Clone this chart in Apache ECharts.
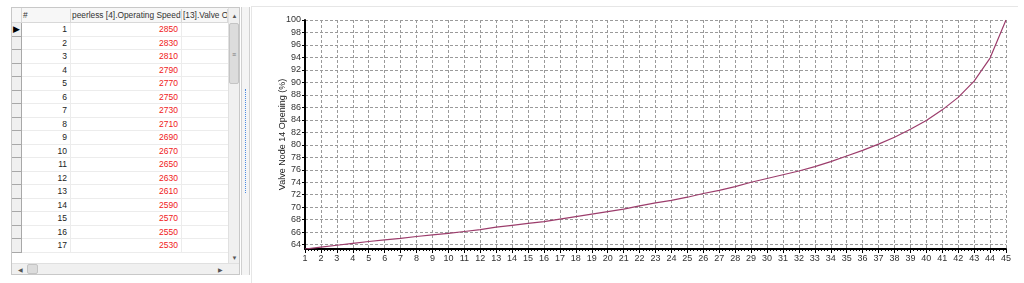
<!DOCTYPE html>
<html>
<head>
<meta charset="utf-8">
<script src="https://cdn.jsdelivr.net/npm/echarts@6/dist/echarts.min.js"></script>
<style>
  html, body { margin:0; padding:0; background:#fff; width:1024px; height:283px; overflow:hidden; }
  #panel { position:absolute; left:11px; top:7px; width:229px; height:268px; border:1px solid #c8c8c8; box-sizing:border-box; background:#fff; font-family:"Liberation Sans", Arial, sans-serif; font-size:8.5px; color:#222; overflow:hidden; }
  .cell { position:absolute; box-sizing:border-box; white-space:nowrap; overflow:hidden; line-height:13px; }
  #chart { position:absolute; left:251px; top:0; width:773px; height:283px; }
  #chartbox { position:absolute; left:251px; top:6px; width:767px; height:277px; border-top:1px solid #e6e6e6; border-left:1px solid #e6e6e6; box-sizing:border-box; }
</style>
</head>
<body>
<div id="panel"></div>
<div id="split" style="position:absolute;left:241px;top:7px;width:9px;height:268px;border-left:1px solid #d0d0d0;border-right:1px solid #d0d0d0;box-sizing:border-box;background:#f4f4f4;">
  <div style="position:absolute;left:3px;top:82px;height:104px;border-left:1px dotted #4a8ae0;"></div>
</div>
<div id="chartbox"></div>
<div id="chart"></div>
<script>
// ---- table data ----
const tableHeaders = ['#', 'peerless [4].Operating Speed', '[13].Valve Opening'];
const rowNumbers = [1,2,3,4,5,6,7,8,9,10,11,12,13,14,15,16,17];
const operatingSpeeds = [2850,2830,2810,2790,2770,2750,2730,2710,2690,2670,2650,2630,2610,2590,2570,2550,2530];

// ---- chart data ----
const xCategories = [1,2,3,4,5,6,7,8,9,10,11,12,13,14,15,16,17,18,19,20,21,22,23,24,25,26,27,28,29,30,31,32,33,34,35,36,37,38,39,40,41,42,43,44,45];
const valveOpening = [63.3,63.6,63.9,64.2,64.5,64.75,65.0,65.3,65.55,65.8,66.1,66.4,66.8,67.1,67.4,67.7,68.1,68.5,68.9,69.3,69.7,70.2,70.7,71.1,71.6,72.2,72.7,73.3,74.0,74.6,75.2,75.8,76.5,77.3,78.2,79.1,80.1,81.2,82.5,83.9,85.6,87.6,90.2,93.9,100];
const yTickValues = [64,66,68,70,72,74,76,78,80,82,84,86,88,90,92,94,96,98,100];
const yAxisName = 'Valve Node 14 Opening (%)';

// ---- build table ----
const panel = document.getElementById('panel');
function add(html, css) {
  const d = document.createElement('div');
  d.className = 'cell';
  d.innerHTML = html;
  Object.assign(d.style, css);
  panel.appendChild(d);
  return d;
}
const rowH = 13.5, headH = 15;
const cols = [[10, 59], [59, 170], [170, 216]];
// header
add('', {left:'0px', top:'0px', width:'216px', height:headH+'px', background:'#f7f7f7', borderBottom:'1px solid #d8d8d8'});
add('', {left:'0px', top:'0px', width:'10px', height:headH+'px', borderRight:'1px solid #d8d8d8'});
tableHeaders.forEach((h, i) => {
  add(h, {left:cols[i][0]+'px', top:'1px', width:(cols[i][1]-cols[i][0])+'px', height:(headH-1)+'px', paddingLeft:'1px', borderRight:'1px solid #d8d8d8', color:'#333', fontSize:'8.35px'});
});
// rows
rowNumbers.forEach((n, r) => {
  const top = headH + r * rowH;
  add(r === 0 ? '<span style="font-size:9px">&#9654;</span>' : '', {left:'0px', top:top+'px', width:'10px', height:rowH+'px', background:'#f0f0f0', borderRight:'1px solid #a8a8a8', borderBottom:'1px solid #a8a8a8', lineHeight:rowH+'px', paddingLeft:'1px', color:'#000'});
  add(String(n), {left:cols[0][0]+'px', top:top+'px', width:(cols[0][1]-cols[0][0])+'px', height:rowH+'px', textAlign:'right', paddingRight:'3px', borderRight:'1px solid #ececec', borderBottom:'1px solid #ececec', lineHeight:rowH+'px', color:'#222'});
  add(String(operatingSpeeds[r]), {left:cols[1][0]+'px', top:top+'px', width:(cols[1][1]-cols[1][0])+'px', height:rowH+'px', textAlign:'right', paddingRight:'3px', borderRight:'1px solid #ececec', borderBottom:'1px solid #ececec', lineHeight:rowH+'px', color:'#f02020'});
  add('', {left:cols[2][0]+'px', top:top+'px', width:(cols[2][1]-cols[2][0])+'px', height:rowH+'px', borderBottom:'1px solid #ececec'});
});
// vertical scrollbar
add('', {left:'216px', top:'0px', width:'12px', height:'255px', background:'#f0f0f0', borderLeft:'1px solid #e0e0e0'});
add('<span style="font-size:6px;color:#555">&#9650;</span>', {left:'217px', top:'1px', width:'11px', height:'13px', textAlign:'center', lineHeight:'13px'});
add('<span style="font-size:7px;color:#777">&#8801;</span>', {left:'217px', top:'15px', width:'10px', height:'61px', background:'#dcdcdc', border:'1px solid #c4c4c4', borderRadius:'2px', textAlign:'center', lineHeight:'61px'});
add('<span style="font-size:6px;color:#555">&#9660;</span>', {left:'217px', top:'243px', width:'11px', height:'12px', textAlign:'center', lineHeight:'12px'});
// horizontal scrollbar
add('', {left:'0px', top:'255px', width:'228px', height:'12px', background:'#f0f0f0', borderTop:'1px solid #e0e0e0'});
add('<span style="font-size:6px;color:#555">&#9664;</span>', {left:'3px', top:'256px', width:'10px', height:'11px', textAlign:'center', lineHeight:'11px'});
add('', {left:'15px', top:'256px', width:'11px', height:'10px', background:'#dcdcdc', border:'1px solid #c4c4c4', borderRadius:'2px'});
add('<span style="font-size:6px;color:#555">&#9654;</span>', {left:'203px', top:'256px', width:'10px', height:'11px', textAlign:'center', lineHeight:'11px'});

// ---- chart ----
const chart = echarts.init(document.getElementById('chart'), null, {renderer:'canvas'});
const labelFont = {fontFamily:'Liberation Sans, Arial, sans-serif', fontSize:9, color:'#333'};
chart.setOption({
  animation:false,
  grid:{left:54, right:18, top:20, bottom:34, containLabel:false},
  xAxis:{
    type:'value', min:1, max:45, interval:1,
    axisLine:{show:true, onZero:false, lineStyle:{color:'#000', width:2}},
    axisTick:{show:true, length:4, lineStyle:{color:'#000'}},
    minorTick:{show:true, splitNumber:5, length:2, lineStyle:{color:'#000'}},
    axisLabel:Object.assign({margin:5}, labelFont),
    splitLine:{show:true, lineStyle:{color:'#9a9a9a', type:[3,2], width:1}}
  },
  yAxis:{
    type:'value', min:valveOpening[0], max:100,
    name:yAxisName, nameLocation:'middle', nameGap:18, nameRotate:90, nameMoveOverlap:false,
    nameTextStyle:{fontFamily:'Liberation Sans, Arial, sans-serif', fontSize:9, color:'#222'},
    axisLine:{show:true, lineStyle:{color:'#000', width:2}},
    axisTick:{show:true, length:3, customValues:yTickValues, lineStyle:{color:'#000'}},
    axisLabel:Object.assign({margin:4, customValues:yTickValues}, labelFont),
    splitLine:{show:true, lineStyle:{color:'#9a9a9a', type:[3,2], width:1}}
  },
  series:[{
    type:'line',
    data:xCategories.map((x, i) => [x, valveOpening[i]]),
    showSymbol:false,
    smooth:false,
    lineStyle:{color:'#9c3d6c', width:1.2},
    itemStyle:{color:'#9c3d6c'}
  }]
});
</script>
</body>
</html>
